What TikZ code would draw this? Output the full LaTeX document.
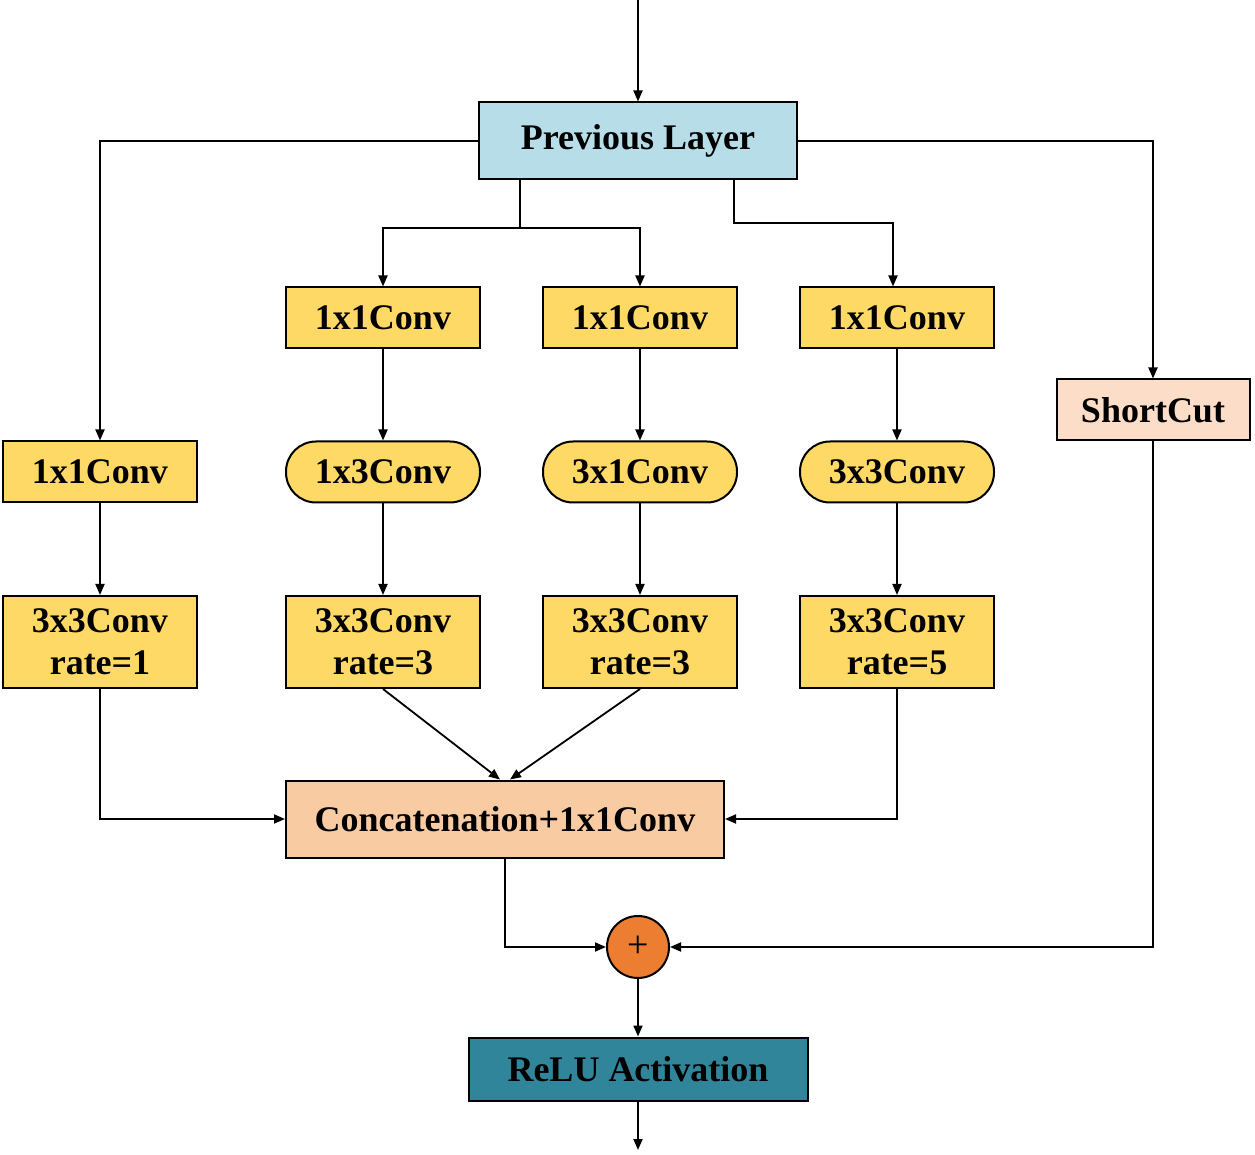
\documentclass[tikz,border=0pt]{standalone}
\usepackage{fontspec}
\setmainfont{Liberation Serif}
\usepackage{xcolor}
\usetikzlibrary{arrows.meta,positioning,shapes.misc}

\definecolor{prevblue}{RGB}{183,222,232}
\definecolor{convyellow}{RGB}{255,217,102}
\definecolor{cutpeach}{RGB}{252,222,200}
\definecolor{catpeach}{RGB}{248,203,162}
\definecolor{addorange}{RGB}{237,125,49}
\definecolor{reluteal}{RGB}{49,133,155}

\tikzset{
  blk/.style={draw, line width=1pt, inner sep=0pt, align=center,
    font=\fontsize{18}{21}\selectfont\bfseries},
  conv/.style={blk, fill=convyellow, minimum width=97pt, minimum height=30.5pt},
  pill/.style={conv, rounded corners=15pt},
  rateconv/.style={conv, minimum height=46pt},
  wire/.style={line width=0.9pt},
  link/.style={wire, -{Triangle[length=5.5pt,width=4.5pt]}},
}

\begin{document}
\begin{tikzpicture}[x=0.5pt,y=-0.5pt]
\useasboundingbox (0,0) rectangle (1255,1155);
\node [blk, fill=prevblue, minimum width=159pt, minimum height=38.5pt] (prev) at (638,141) {Previous Layer};
\node [conv] (c11) at (100,472) {1x1Conv};
\node [conv] (r1c1) at (383,318) {1x1Conv};
\node [conv] (r1c2) at (640,318) {1x1Conv};
\node [conv] (r1c3) at (897,318) {1x1Conv};
\node [pill] (mid1) at (383,472) {1x3Conv};
\node [pill] (mid2) at (640,472) {3x1Conv};
\node [pill] (mid3) at (897,472) {3x3Conv};
\node [rateconv] (rate1) at (100,642) {3x3Conv\\rate=1};
\node [rateconv] (rate3a) at (383,642) {3x3Conv\\rate=3};
\node [rateconv] (rate3b) at (640,642) {3x3Conv\\rate=3};
\node [rateconv] (rate5) at (897,642) {3x3Conv\\rate=5};
\node [blk, fill=cutpeach, minimum width=96.5pt, minimum height=30.5pt] (cut) at (1153,410) {ShortCut};
\node [blk, fill=catpeach, minimum width=219pt, minimum height=38.5pt] (cat) at (505,819) {Concatenation+1x1Conv};
\node [circle, draw, line width=1pt, fill=addorange, minimum size=31pt, inner sep=0pt,
  font=\fontsize{19}{19}\selectfont] (add) at (638,947) {+};
\node [blk, fill=reluteal, minimum width=169.5pt, minimum height=31.5pt] (relu) at (638,1069) {ReLU Activation};

\coordinate (in) at (638,0);
\coordinate (out) at (638,1150);
\coordinate (lsplit) at (520,228);
\coordinate (rsplit) at (734,223);

\draw [link] (in) -- (prev);
\draw [link] (prev.west) -| (c11.north);
\draw [link] (prev.east) -| (cut.north);
\draw [wire] (lsplit |- prev.south) -- (lsplit);
\draw [link] (lsplit) -| (r1c1.north);
\draw [link] (lsplit) -| (r1c2.north);
\draw [link] (rsplit |- prev.south) -- (rsplit) -| ([xshift=-2pt]r1c3.north);
\draw [link] (c11) -- (rate1);
\draw [link] (r1c1) -- (mid1);
\draw [link] (r1c2) -- (mid2);
\draw [link] (r1c3) -- (mid3);
\draw [link] (mid1) -- (rate3a);
\draw [link] (mid2) -- (rate3b);
\draw [link] (mid3) -- (rate5);
\draw [link] (rate1.south) |- (cat.west);
\draw [link] (rate5.south) |- (cat.east);
\draw [link] (rate3a.south) -- ([xshift=-2.5pt]cat.north);
\draw [link] (rate3b.south) -- ([xshift=2.5pt]cat.north);
\draw [link] (cat.south) |- (add.west);
\draw [link] (cut.south) |- (add.east);
\draw [link] (add) -- (relu);
\draw [link] (relu) -- (out);
\end{tikzpicture}
\end{document}
